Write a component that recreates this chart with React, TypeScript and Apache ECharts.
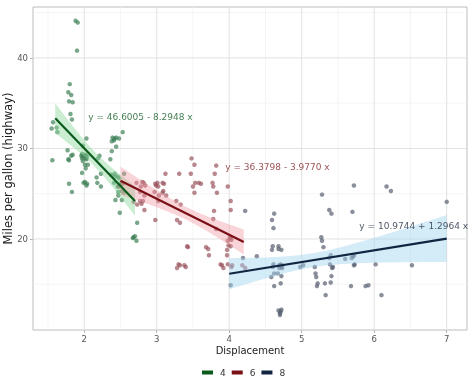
import React, { useEffect, useRef } from "react";
import * as echarts from "echarts";

// ---- data (displacement, highway mpg) (jittered as drawn) ----
const PTS_4: number[][] = [
  [1.82, 29.2], [1.78, 28.8], [2.03, 31.1], [1.98, 30.3],
  [1.79, 26.1], [1.83, 25.2], [2.02, 27.8], [1.97, 27.3],
  [2.42, 27.2], [2.38, 29.7], [2.43, 24.3],
  [1.57, 32.9], [1.62, 32.3], [1.55, 32.2], [1.56, 28.7], [1.63, 31.8], [1.81, 33.8], [1.78, 36.2], [1.82, 35.9], [2.04, 29.1],
  [2.41, 26.2], [2.37, 27.1], [2.44, 30.2], [2.39, 31.2],
  [2.01, 26.3], [1.97, 28.9], [2.05, 28.2],
  [2.36, 28.8], [2.42, 26.9], [2.48, 31.1], [2.53, 31.8],
  [2.47, 25.2], [2.52, 24.3], [2.46, 26.9], [2.55, 25.1], [2.51, 26.2], [2.49, 22.9],
  [2.18, 26.2], [2.23, 25.8], [2.53, 26.1], [2.46, 25.8], [2.52, 25.3], [2.48, 26.7], [2.55, 27.2], [2.47, 24.8],
  [2.68, 20.2], [2.72, 19.8],
  [2.21, 29.2], [2.17, 26.8], [2.42, 31.1], [2.38, 30.8],
  [2.23, 27.2], [2.19, 28.9], [2.41, 30.9], [2.44, 31.2],
  [1.77, 29.8], [1.83, 33.2], [1.79, 35.2], [1.8, 37.1], [1.84, 35.1],
  [2.7, 20.3], [2.67, 20.1], [2.73, 21.8],
  [2.03, 28.8], [1.99, 26.2], [2.02, 29.3], [1.98, 28.6],
  [1.88, 44.1], [2.01, 29.2], [2.04, 26.1], [1.97, 29.4], [2.02, 28.9],
  [1.91, 43.9], [1.9, 40.8], [1.98, 29.1], [2.03, 25.9],
  [1.79, 28.7], [1.84, 29.3], [2.01, 28.2], [1.96, 29.2],
];

const PTS_6: number[][] = [
  [2.52, 26.1], [2.48, 25.8],
  [2.72, 26.2], [2.68, 24.1], [2.73, 23.8],
  [2.82, 26.2], [2.78, 25.8], [3.12, 27.2],
  [2.77, 25.2], [2.83, 24.8], [3.08, 25.1], [3.13, 24.8],
  [2.81, 24.2], [3.09, 25.3],
  [2.79, 23.9], [2.83, 23.2], [2.77, 24.2],
  [2.8, 26.3], [2.84, 25.9], [3.61, 26.1],
  [3.02, 24.2], [3.28, 22.1], [3.32, 21.8], [3.27, 24.2], [3.33, 23.8], [3.3, 17.2], [3.78, 22.2], [3.82, 21.1], [3.79, 23.1], [4.02, 23.2],
  [3.1, 26.1], [3.48, 28.9], [3.58, 26.2],
  [3.68, 19.1], [3.72, 18.2], [3.88, 17.2], [3.92, 16.8], [3.9, 17.1],
  [3.98, 17.2], [4.02, 19.2], [4.03, 16.9], [3.97, 18.8],
  [4.18, 17.1], [4.22, 16.8],
  [3.77, 26.2], [3.83, 25.1], [3.98, 25.8], [4.02, 24.2],
  [2.98, 22.1], [3.71, 18.9], [4.01, 20.2],
  [4.04, 17.1], [3.99, 19.3],
  [2.97, 25.2], [3.03, 24.8], [3.52, 25.1],
  [3.47, 27.2], [3.53, 26.2], [3.5, 25.8],
  [3.28, 16.8], [3.32, 17.1], [3.98, 19.8],
  [3.08, 26.2], [3.78, 25.8], [3.8, 27.2], [3.82, 28.1],
  [3.42, 19.2], [3.38, 17.1], [4.02, 20.1],
  [2.98, 26.1], [3.02, 25.8], [3.52, 28.2],
  [3.01, 26.2], [2.99, 25.9], [3.31, 27.2],
  [3.4, 16.9], [3.43, 19.1], [3.97, 18.2], [4.03, 19.9],
];

const PTS_8: number[][] = [
  [4.22, 23.1],
  [5.28, 19.8], [5.32, 15.1], [5.27, 20.2], [5.72, 17.1], [6.02, 17.2],
  [5.72, 25.9], [5.7, 23.0], [6.17, 25.8], [6.23, 25.3], [7.0, 24.1],
  [5.3, 19.1], [5.33, 13.8], [5.68, 14.8], [6.52, 17.1],
  [4.68, 19.2], [4.72, 18.8], [4.7, 11.8], [5.18, 16.9], [5.22, 15.1],
  [4.71, 17.2], [4.68, 12.1], [4.73, 16.8], [5.19, 16.2], [5.71, 18.1], [5.88, 14.8],
  [4.67, 16.2], [4.7, 11.6], [4.73, 17.1], [4.69, 16.8], [4.72, 15.9], [4.71, 12.0], [5.21, 14.8], [5.2, 15.8], [5.73, 17.2], [5.92, 14.9],
  [4.61, 17.2], [5.42, 16.8], [5.38, 17.9],
  [4.6, 19.2], [5.02, 17.1],
  [4.58, 15.8], [4.62, 16.2], [4.6, 16.9], [5.4, 15.2], [5.43, 16.9],
  [4.61, 21.2], [4.59, 22.1], [4.62, 22.8], [5.38, 23.2], [5.41, 22.8],
  [4.02, 14.9], [4.19, 17.9], [4.38, 18.1], [4.62, 14.8],
  [5.39, 17.2], [5.41, 15.9], [5.4, 18.2],
  [4.69, 17.1], [4.72, 12.2], [4.68, 18.9], [5.69, 17.9], [6.1, 13.8],
  [4.59, 18.8], [4.98, 16.9],
  [5.6, 17.8], [5.28, 24.9], [4.72, 16.9],
  [4.71, 15.1], [5.72, 18.2],
];

const GROUPS = ["4", "6", "8"];
const INTERCEPTS = [46.6005, 36.3798, 10.9744];
const SLOPES = [-8.2948, -3.977, 1.2964];
const LINE_RANGES = [[1.6, 2.7], [2.5, 4.2], [4.0, 7.0]];
const LABEL_POS = [[2.055, 33.5], [3.945, 27.97], [5.795, 21.47]];

const X_TICKS = [2, 3, 4, 5, 6, 7];
const X_MINOR = [1.5, 2.5, 3.5, 4.5, 5.5, 6.5];
const Y_TICKS = [20, 30, 40];
const Y_MINOR = [15, 25, 35, 45];

// ---- styles ----
const X_MIN = 1.293, X_MAX = 7.28, Y_MIN = 9.95, Y_MAX = 45.62;
const POINT_COLORS = ["#3a7d52", "#98505a", "#525a6c"];
const LINE_COLORS = ["#0a5a1c", "#7a1016", "#112540"];
const BAND_COLORS = ["rgba(140,216,155,0.45)", "rgba(240,150,160,0.40)", "rgba(160,210,240,0.45)"];
const TEXT_COLORS = ["#145c25", "#7e1f27", "#1b283b"];
const FONT = "DejaVu Sans";

function ciBand(pts: number[][], a: number, b: number, lo: number, hi: number) {
  const n = pts.length;
  const xbar = pts.reduce((s, p) => s + p[0], 0) / n;
  const sxx = pts.reduce((s, p) => s + (p[0] - xbar) ** 2, 0);
  const s2 = pts.reduce((s, p) => s + (p[1] - (a + b * p[0])) ** 2, 0) / (n - 2);
  const t = 1.99;
  const steps = 60;
  const out: number[][] = [];
  for (let i = 0; i <= steps; i++) {
    const x = lo + ((hi - lo) * i) / steps;
    const yhat = a + b * x;
    const se = Math.sqrt(s2 * (1 / n + (x - xbar) ** 2 / sxx));
    out.push([x, yhat - t * se, yhat + t * se]);
  }
  return out;
}

function eqText(a: number, b: number) {
  return `y = ${a.toFixed(4)} ${b < 0 ? "-" : "+"} ${Math.abs(b).toFixed(4)} x`;
}

export default function App() {
  const ref = useRef<HTMLDivElement>(null);
  useEffect(() => {
    if (!ref.current) return;
    const chart = echarts.init(ref.current, null, { renderer: "svg" });
    const allPts = [PTS_4, PTS_6, PTS_8];

    const gridData: number[][] = [
      ...X_MINOR.map((v) => [v, 0, 0]),
      ...Y_MINOR.map((v) => [v, 1, 0]),
      ...X_TICKS.map((v) => [v, 0, 1]),
      ...Y_TICKS.map((v) => [v, 1, 1]),
    ];

    const series: any[] = [
      {
        type: "custom",
        name: "grid",
        silent: true,
        z: 0,
        data: gridData,
        encode: { x: 0 },
        renderItem: (_p: any, api: any) => {
          const v = api.value(0), isY = api.value(1), major = api.value(2);
          const p1 = isY ? api.coord([X_MIN, v]) : api.coord([v, Y_MIN]);
          const p2 = isY ? api.coord([X_MAX, v]) : api.coord([v, Y_MAX]);
          return {
            type: "line",
            shape: { x1: p1[0], y1: p1[1], x2: p2[0], y2: p2[1] },
            style: { stroke: major ? "#e2e2e2" : "#f1f1f1", lineWidth: major ? 1 : 0.7 },
          };
        },
      },
    ];

    GROUPS.forEach((g, i) => {
      series.push({
        type: "scatter",
        name: g + " pts",
        data: allPts[i],
        symbolSize: 4.5,
        z: 2,
        itemStyle: { color: POINT_COLORS[i], opacity: 0.68 },
      });
    });

    GROUPS.forEach((g, i) => {
      const band = ciBand(allPts[i], INTERCEPTS[i], SLOPES[i], LINE_RANGES[i][0], LINE_RANGES[i][1]);
      series.push({
        type: "custom",
        name: g + " band",
        silent: true,
        z: 3,
        data: band,
        encode: { x: 0, y: [1, 2] },
        renderItem: (params: any, api: any) => {
          if (params.dataIndex !== 0) return null;
          const upper = band.map((d) => api.coord([d[0], d[2]]));
          const lower = band.slice().reverse().map((d) => api.coord([d[0], d[1]]));
          return {
            type: "polygon",
            shape: { points: upper.concat(lower) },
            style: { fill: BAND_COLORS[i] },
          };
        },
      });
    });

    GROUPS.forEach((g, i) => {
      const [x0, x1] = LINE_RANGES[i];
      series.push({
        type: "line",
        name: g,
        data: [[x0, INTERCEPTS[i] + SLOPES[i] * x0], [x1, INTERCEPTS[i] + SLOPES[i] * x1]],
        showSymbol: false,
        symbol: "none",
        z: 4,
        color: LINE_COLORS[i],
        lineStyle: { color: LINE_COLORS[i], width: 2.2 },
      });
    });

    series.push({
      type: "scatter",
      name: "labels",
      symbolSize: 0,
      z: 5,
      silent: true,
      data: GROUPS.map((_g, i) => ({
        value: LABEL_POS[i],
        label: {
          show: true,
          position: "right",
          distance: 0,
          formatter: eqText(INTERCEPTS[i], SLOPES[i]),
          color: TEXT_COLORS[i],
          fontSize: 9,
          fontFamily: FONT,
        },
      })),
    });

    const tick = { show: true, length: 3, lineStyle: { color: "#b5b5b5", width: 1 } };

    chart.setOption({
      animation: false,
      textStyle: { fontFamily: FONT },
      grid: {
        left: 33, right: 7, top: 7, bottom: 52,
        outerBoundsMode: "none",
        containLabel: false,
        show: true, borderColor: "#bdbdbd", borderWidth: 1, backgroundColor: "#ffffff",
      },
      xAxis: {
        type: "value",
        min: X_MIN,
        max: X_MAX,
        name: "Displacement",
        nameLocation: "middle",
        nameGap: 15,
        nameMoveOverlap: false,
        nameTextStyle: { fontSize: 10, color: "#1a1a1a", fontFamily: FONT },
        axisLine: { show: false },
        axisTick: { ...tick, customValues: X_TICKS },
        splitLine: { show: false },
        axisLabel: {
          customValues: X_TICKS,
          fontSize: 8.5,
          color: "#555555",
          margin: 4,
          fontFamily: FONT,
        },
      },
      yAxis: {
        type: "value",
        min: Y_MIN,
        max: Y_MAX,
        name: "Miles per gallon (highway)",
        nameLocation: "middle",
        nameRotate: 90,
        nameGap: 19,
        nameMoveOverlap: false,
        nameTextStyle: { fontSize: 11.5, color: "#1a1a1a", fontFamily: FONT },
        axisLine: { show: false },
        axisTick: { ...tick, customValues: Y_TICKS },
        splitLine: { show: false },
        axisLabel: {
          customValues: Y_TICKS,
          fontSize: 8.5,
          color: "#555555",
          margin: 5,
          fontFamily: FONT,
        },
      },
      legend: {
        top: 363,
        left: 197,
        itemWidth: 11,
        itemHeight: 4,
        itemGap: 6,
        icon: "rect",
        data: GROUPS,
        textStyle: { fontSize: 9, color: "#333333", fontFamily: FONT, padding: [0, 0, 0, 2] },
        selectedMode: false,
      },
      series,
    });
    return () => chart.dispose();
  }, []);
  return <div ref={ref} style={{ width: 474, height: 382, position: "fixed", left: 0, top: 0 }} />;
}
